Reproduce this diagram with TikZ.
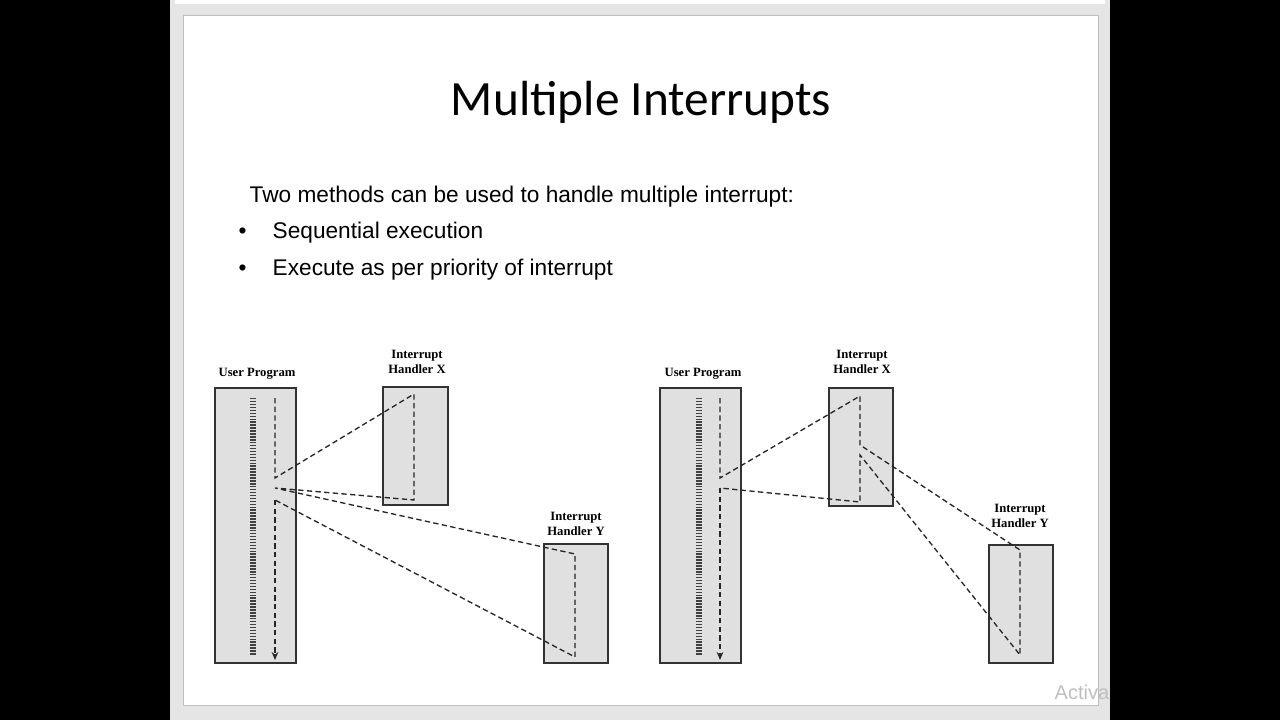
\documentclass[tikz,border=0pt]{standalone}
\usepackage{fontspec}
\setmainfont{Liberation Sans}
\newfontfamily\titlefont{Carlito}
\newfontfamily\labfont{Liberation Serif}
\usetikzlibrary{arrows.meta}
\begin{document}
\begin{tikzpicture}[x=0.75pt,y=-0.75pt,
  box/.style={draw=black!80,line width=1.2pt,fill=black!12},
  lab/.style={font=\labfont\bfseries\fontsize{9.5}{11.5}\selectfont,align=center},
  dl/.style={draw=black!85,line width=1pt,dash pattern=on 4pt off 2.5pt},
  hatch/.style={draw=black!75,line width=5pt,dash pattern=on 1.1pt off 1.1pt},
  body/.style={font=\fontsize{17}{20}\selectfont,anchor=west}]
\useasboundingbox (0,0) rectangle (1280,720);
\fill[black] (0,0) rectangle (1280,720);
\fill[black!10] (170,0) rectangle (1110,720);
\fill[white] (175,0) rectangle (1105,4);
\fill[white] (183,15) rectangle (1098,705);
\draw[black!25,line width=0.6pt] (183,15) rectangle (1098,705);
\node[font=\titlefont\fontsize{37}{40}\selectfont] (title) at (641,102) {Multiple Interrupts};
\node[body] (t1) at (245,197) {Two methods can be used to handle multiple interrupt:};
\node[body] (b1) at (234,233) {\textbullet};
\node[body] (t2) at (268,233) {Sequential execution};
\node[body] (b2) at (234,270) {\textbullet};
\node[body] (t3) at (268,270) {Execute as per priority of interrupt};
\node[font=\fontsize{15}{18}\selectfont,text=black!25,anchor=west] (wm) at (1050,692) {Activa};

% left diagram
\node[box,minimum width=60.75pt,minimum height=206pt,inner sep=0] (up1) at (255.5,525.5) {};
\node[box,minimum width=48.75pt,minimum height=88.5pt,inner sep=0] (hx1) at (415.5,446) {};
\node[box,minimum width=48pt,minimum height=89pt,inner sep=0] (hy1) at (576,603.5) {};
\node[lab] (lu1) at (257,374) {User Program};
\node[lab] (lx1) at (417,362) {Interrupt\\Handler X};
\node[lab] (ly1) at (576,524) {Interrupt\\Handler Y};
\draw[hatch] (253,398) -- (253,656);
\coordinate (a1) at (275,398); \coordinate (a2) at (275,478);
\coordinate (a3) at (275,488); \coordinate (a4) at (275,500);
\coordinate (a5) at (275,660);
\coordinate (x1) at (414,394); \coordinate (x2) at (414,500);
\coordinate (y1) at (575,554); \coordinate (y2) at (575,657);
\draw[dl] (a1) -- (a2) -- (x1) -- (x2) -- (a3) -- (y1) -- (y2) -- (a4);
\draw[dl,-{Stealth[length=6pt,width=5pt]}] (a4) -- (a5);

% right diagram
\node[box,minimum width=60.75pt,minimum height=206pt,inner sep=0] (up2) at (700.5,525.5) {};
\node[box,minimum width=48pt,minimum height=88.5pt,inner sep=0] (hx2) at (861,447) {};
\node[box,minimum width=48pt,minimum height=88.5pt,inner sep=0] (hy2) at (1021,604) {};
\node[lab] (lu2) at (703,374) {User Program};
\node[lab] (lx2) at (862,362) {Interrupt\\Handler X};
\node[lab] (ly2) at (1020,516) {Interrupt\\Handler Y};
\draw[hatch] (699,398) -- (699,656);
\coordinate (c1) at (720,398); \coordinate (c2) at (720,478);
\coordinate (c3) at (720,488); \coordinate (c5) at (720,660);
\coordinate (d1) at (860,396); \coordinate (d2) at (860,445);
\coordinate (d3) at (860,455); \coordinate (d4) at (860,502);
\coordinate (e1) at (1020,550); \coordinate (e2) at (1020,655);
\draw[dl] (c1) -- (c2) -- (d1) -- (d2) -- (e1) -- (e2) -- (d3) -- (d4) -- (c3);
\draw[dl,-{Stealth[length=6pt,width=5pt]}] (c3) -- (c5);
\end{tikzpicture}
\end{document}
